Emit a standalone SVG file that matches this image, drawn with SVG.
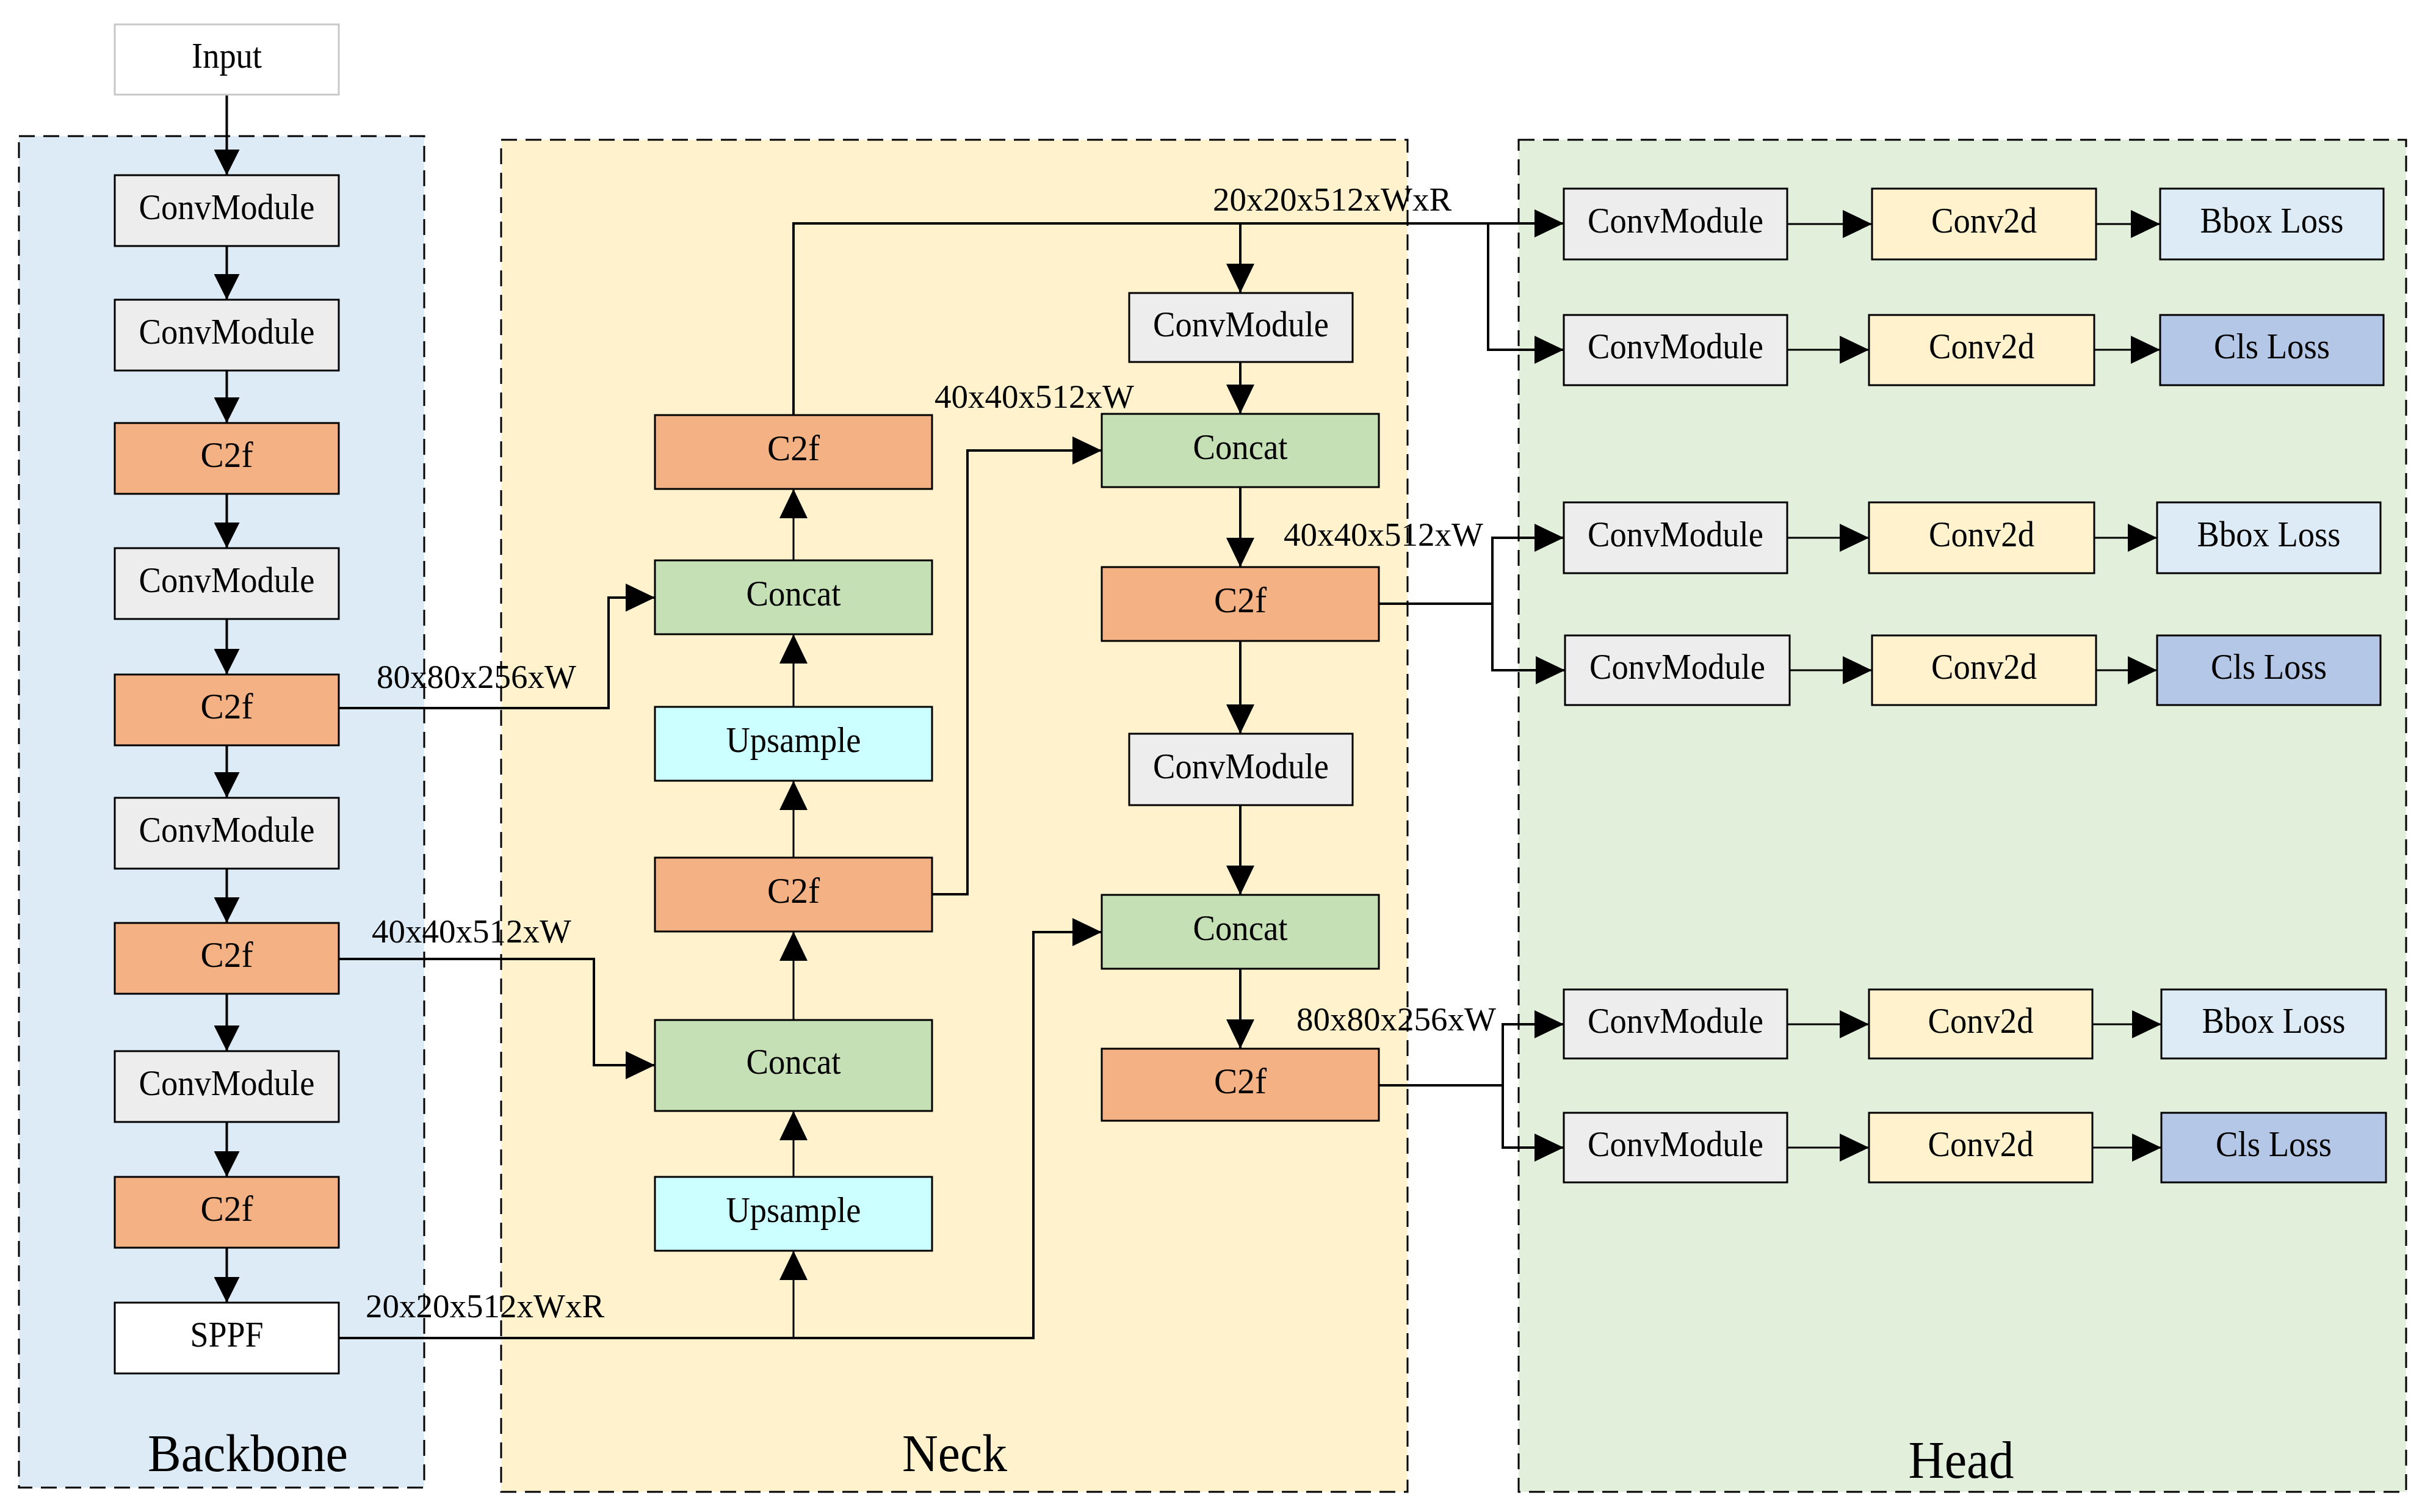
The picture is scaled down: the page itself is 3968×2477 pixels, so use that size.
<svg xmlns="http://www.w3.org/2000/svg" width="3968" height="2477" viewBox="0 0 3968 2477">
<style>
.grp{stroke:#000;stroke-width:3;stroke-dasharray:26 14}
.n{stroke:#000;stroke-width:3}
.cm{fill:#EDEDED}.c2f{fill:#F4B183}.cat{fill:#C5E0B4}.up{fill:#CCFFFF}.c2d{fill:#FFF2CC}.bb{fill:#DDEBF7}.cls{fill:#B4C7E7}.wh{fill:#FFFFFF}
.t{font-family:"Liberation Serif","Times New Roman",serif;font-size:60px;text-anchor:middle;fill:#000;transform:translateY(-5px)}
.lb{font-family:"Liberation Serif","Times New Roman",serif;font-size:55px;fill:#000}
.ti{font-family:"Liberation Serif","Times New Roman",serif;font-size:86px;text-anchor:middle;fill:#000}
.c{fill:none;stroke:#000;stroke-width:4}
.ch{fill:none;stroke:#000;stroke-width:3}
</style>
<defs>
<marker id="ah" markerUnits="userSpaceOnUse" markerWidth="48" markerHeight="46" refX="48" refY="23" orient="auto"><path d="M0,0 L48,23 L0,46 Z" fill="#000"/></marker>
<marker id="as" markerUnits="userSpaceOnUse" markerWidth="42" markerHeight="42" refX="42" refY="21" orient="auto"><path d="M0,0 L42,21 L0,42 Z" fill="#000"/></marker>
</defs>
<rect width="3968" height="2477" fill="#FFFFFF"/>
<g id="groups">
<rect id="backbone" class="grp" x="31" y="223" width="664" height="2214" fill="#DDEBF7"/>
<rect id="neck" class="grp" x="821" y="229" width="1485" height="2215" fill="#FFF2CC"/>
<rect id="head" class="grp" x="2488" y="229" width="1454" height="2215" fill="#E2EFDA"/>
<text class="ti" x="406" y="2410" textLength="328" lengthAdjust="spacingAndGlyphs">Backbone</text>
<text class="ti" x="1564" y="2410" textLength="172" lengthAdjust="spacingAndGlyphs">Neck</text>
<text class="ti" x="3213" y="2421" textLength="173" lengthAdjust="spacingAndGlyphs">Head</text>
</g>
<g id="connectors">
<path class="c" marker-end="url(#as)" d="M371.5,155 V287"/>
<path class="c" marker-end="url(#as)" d="M371.5,403 V491"/>
<path class="c" marker-end="url(#as)" d="M371.5,607 V693"/>
<path class="c" marker-end="url(#as)" d="M371.5,809 V898"/>
<path class="c" marker-end="url(#as)" d="M371.5,1014 V1105"/>
<path class="c" marker-end="url(#as)" d="M371.5,1221 V1307"/>
<path class="c" marker-end="url(#as)" d="M371.5,1423 V1512"/>
<path class="c" marker-end="url(#as)" d="M371.5,1628 V1722"/>
<path class="c" marker-end="url(#as)" d="M371.5,1838 V1928"/>
<path class="c" marker-end="url(#as)" d="M371.5,2044 V2134"/>
<path class="c" marker-end="url(#ah)" d="M555,1160 H997 V979 H1073"/>
<path class="c" marker-end="url(#ah)" d="M555,1571 H973 V1745 H1073"/>
<path class="c" marker-end="url(#ah)" d="M555,2192 H1693 V1527 H1805"/>
<path class="ch" marker-end="url(#ah)" d="M1300,2192 V2049"/>
<path class="ch" marker-end="url(#ah)" d="M1300,1928 V1820"/>
<path class="ch" marker-end="url(#ah)" d="M1300,1671 V1526"/>
<path class="ch" marker-end="url(#ah)" d="M1300,1405 V1279"/>
<path class="ch" marker-end="url(#ah)" d="M1300,1158 V1039"/>
<path class="ch" marker-end="url(#ah)" d="M1300,918 V801"/>
<path class="c" marker-end="url(#ah)" d="M1300,680 V366 H2562"/>
<path class="c" marker-end="url(#ah)" d="M2032,366 V480"/>
<path class="c" marker-end="url(#ah)" d="M2438,366 V573 H2562"/>
<path class="c" marker-end="url(#ah)" d="M1527,1465 H1585 V738 H1805"/>
<path class="c" marker-end="url(#ah)" d="M2032,593 V678"/>
<path class="c" marker-end="url(#ah)" d="M2032,798 V929"/>
<path class="c" marker-end="url(#ah)" d="M2032,1050 V1202"/>
<path class="c" marker-end="url(#ah)" d="M2032,1319 V1466"/>
<path class="c" marker-end="url(#ah)" d="M2032,1587 V1718"/>
<path class="c" marker-end="url(#ah)" d="M2259,989 H2445 V881 H2562"/>
<path class="c" marker-end="url(#ah)" d="M2445,989 V1098 H2564"/>
<path class="c" marker-end="url(#ah)" d="M2259,1778 H2462 V1678 H2562"/>
<path class="c" marker-end="url(#ah)" d="M2462,1778 V1880 H2562"/>
<path class="ch" marker-end="url(#ah)" d="M2928,367 H3067"/>
<path class="ch" marker-end="url(#ah)" d="M3434,367 H3539"/>
<path class="ch" marker-end="url(#ah)" d="M2928,573 H3062"/>
<path class="ch" marker-end="url(#ah)" d="M3431,573 H3539"/>
<path class="ch" marker-end="url(#ah)" d="M2928,881 H3062"/>
<path class="ch" marker-end="url(#ah)" d="M3431,881 H3534"/>
<path class="ch" marker-end="url(#ah)" d="M2932,1098 H3067"/>
<path class="ch" marker-end="url(#ah)" d="M3434,1098 H3534"/>
<path class="ch" marker-end="url(#ah)" d="M2928,1678 H3062"/>
<path class="ch" marker-end="url(#ah)" d="M3428,1678 H3541"/>
<path class="ch" marker-end="url(#ah)" d="M2928,1880 H3062"/>
<path class="ch" marker-end="url(#ah)" d="M3428,1880 H3541"/>
</g>
<g id="labels">
<text class="lb" x="1987" y="345">20x20x512xWxR</text>
<text class="lb" x="1531" y="668">40x40x512xW</text>
<text class="lb" x="2103" y="894">40x40x512xW</text>
<text class="lb" x="617" y="1127">80x80x256xW</text>
<text class="lb" x="609" y="1544">40x40x512xW</text>
<text class="lb" x="599" y="2158">20x20x512xWxR</text>
<text class="lb" x="2124" y="1688">80x80x256xW</text>
</g>
<g id="input"><rect class="wh" x="188" y="40" width="367" height="115" stroke="#C8C8C8" stroke-width="3"/><text class="t" x="371.5" y="116" textLength="115" lengthAdjust="spacingAndGlyphs">Input</text></g>
<g id="b1"><rect class="n cm" x="188" y="287" width="367" height="116"/><text class="t" x="371.5" y="364" textLength="288" lengthAdjust="spacingAndGlyphs">ConvModule</text></g>
<g id="b2"><rect class="n cm" x="188" y="491" width="367" height="116"/><text class="t" x="371.5" y="568" textLength="288" lengthAdjust="spacingAndGlyphs">ConvModule</text></g>
<g id="b3"><rect class="n c2f" x="188" y="693" width="367" height="116"/><text class="t" x="371.5" y="770" textLength="86" lengthAdjust="spacingAndGlyphs">C2f</text></g>
<g id="b4"><rect class="n cm" x="188" y="898" width="367" height="116"/><text class="t" x="371.5" y="975" textLength="288" lengthAdjust="spacingAndGlyphs">ConvModule</text></g>
<g id="b5"><rect class="n c2f" x="188" y="1105" width="367" height="116"/><text class="t" x="371.5" y="1182" textLength="86" lengthAdjust="spacingAndGlyphs">C2f</text></g>
<g id="b6"><rect class="n cm" x="188" y="1307" width="367" height="116"/><text class="t" x="371.5" y="1384" textLength="288" lengthAdjust="spacingAndGlyphs">ConvModule</text></g>
<g id="b7"><rect class="n c2f" x="188" y="1512" width="367" height="116"/><text class="t" x="371.5" y="1589" textLength="86" lengthAdjust="spacingAndGlyphs">C2f</text></g>
<g id="b8"><rect class="n cm" x="188" y="1722" width="367" height="116"/><text class="t" x="371.5" y="1799" textLength="288" lengthAdjust="spacingAndGlyphs">ConvModule</text></g>
<g id="b9"><rect class="n c2f" x="188" y="1928" width="367" height="116"/><text class="t" x="371.5" y="2005" textLength="86" lengthAdjust="spacingAndGlyphs">C2f</text></g>
<g id="b10"><rect class="n wh" x="188" y="2134" width="367" height="116"/><text class="t" x="371.5" y="2211" textLength="120" lengthAdjust="spacingAndGlyphs">SPPF</text></g>
<g id="n1"><rect class="n c2f" x="1073" y="680" width="454" height="121"/><text class="t" x="1300" y="759" textLength="86" lengthAdjust="spacingAndGlyphs">C2f</text></g>
<g id="n2"><rect class="n cat" x="1073" y="918" width="454" height="121"/><text class="t" x="1300" y="997" textLength="155" lengthAdjust="spacingAndGlyphs">Concat</text></g>
<g id="n3"><rect class="n up" x="1073" y="1158" width="454" height="121"/><text class="t" x="1300" y="1237" textLength="221" lengthAdjust="spacingAndGlyphs">Upsample</text></g>
<g id="n4"><rect class="n c2f" x="1073" y="1405" width="454" height="121"/><text class="t" x="1300" y="1484" textLength="86" lengthAdjust="spacingAndGlyphs">C2f</text></g>
<g id="n5"><rect class="n cat" x="1073" y="1671" width="454" height="149"/><text class="t" x="1300" y="1764" textLength="155" lengthAdjust="spacingAndGlyphs">Concat</text></g>
<g id="n6"><rect class="n up" x="1073" y="1928" width="454" height="121"/><text class="t" x="1300" y="2007" textLength="221" lengthAdjust="spacingAndGlyphs">Upsample</text></g>
<g id="r1"><rect class="n cm" x="1850" y="480" width="366" height="113"/><text class="t" x="2033" y="556" textLength="288" lengthAdjust="spacingAndGlyphs">ConvModule</text></g>
<g id="r2"><rect class="n cat" x="1805" y="678" width="454" height="120"/><text class="t" x="2032" y="757" textLength="155" lengthAdjust="spacingAndGlyphs">Concat</text></g>
<g id="r3"><rect class="n c2f" x="1805" y="929" width="454" height="121"/><text class="t" x="2032" y="1008" textLength="86" lengthAdjust="spacingAndGlyphs">C2f</text></g>
<g id="r4"><rect class="n cm" x="1850" y="1202" width="366" height="117"/><text class="t" x="2033" y="1280" textLength="288" lengthAdjust="spacingAndGlyphs">ConvModule</text></g>
<g id="r5"><rect class="n cat" x="1805" y="1466" width="454" height="121"/><text class="t" x="2032" y="1545" textLength="155" lengthAdjust="spacingAndGlyphs">Concat</text></g>
<g id="r6"><rect class="n c2f" x="1805" y="1718" width="454" height="118"/><text class="t" x="2032" y="1796" textLength="86" lengthAdjust="spacingAndGlyphs">C2f</text></g>
<g id="h1a"><rect class="n cm" x="2562" y="309" width="366" height="116"/><text class="t" x="2745" y="386" textLength="288" lengthAdjust="spacingAndGlyphs">ConvModule</text></g>
<g id="h1b"><rect class="n c2d" x="3067" y="309" width="367" height="116"/><text class="t" x="3250.5" y="386" textLength="173" lengthAdjust="spacingAndGlyphs">Conv2d</text></g>
<g id="h1c"><rect class="n bb" x="3539" y="309" width="366" height="116"/><text class="t" x="3722" y="386" textLength="235" lengthAdjust="spacingAndGlyphs">Bbox Loss</text></g>
<g id="h2a"><rect class="n cm" x="2562" y="516" width="366" height="115"/><text class="t" x="2745" y="592" textLength="288" lengthAdjust="spacingAndGlyphs">ConvModule</text></g>
<g id="h2b"><rect class="n c2d" x="3062" y="516" width="369" height="115"/><text class="t" x="3246.5" y="592" textLength="173" lengthAdjust="spacingAndGlyphs">Conv2d</text></g>
<g id="h2c"><rect class="n cls" x="3539" y="516" width="366" height="115"/><text class="t" x="3722" y="592" textLength="190" lengthAdjust="spacingAndGlyphs">Cls Loss</text></g>
<g id="h3a"><rect class="n cm" x="2562" y="823" width="366" height="116"/><text class="t" x="2745" y="900" textLength="288" lengthAdjust="spacingAndGlyphs">ConvModule</text></g>
<g id="h3b"><rect class="n c2d" x="3062" y="823" width="369" height="116"/><text class="t" x="3246.5" y="900" textLength="173" lengthAdjust="spacingAndGlyphs">Conv2d</text></g>
<g id="h3c"><rect class="n bb" x="3534" y="823" width="366" height="116"/><text class="t" x="3717" y="900" textLength="235" lengthAdjust="spacingAndGlyphs">Bbox Loss</text></g>
<g id="h4a"><rect class="n cm" x="2564" y="1041" width="368" height="114"/><text class="t" x="2748" y="1117" textLength="288" lengthAdjust="spacingAndGlyphs">ConvModule</text></g>
<g id="h4b"><rect class="n c2d" x="3067" y="1041" width="367" height="114"/><text class="t" x="3250.5" y="1117" textLength="173" lengthAdjust="spacingAndGlyphs">Conv2d</text></g>
<g id="h4c"><rect class="n cls" x="3534" y="1041" width="366" height="114"/><text class="t" x="3717" y="1117" textLength="190" lengthAdjust="spacingAndGlyphs">Cls Loss</text></g>
<g id="h5a"><rect class="n cm" x="2562" y="1621" width="366" height="113"/><text class="t" x="2745" y="1697" textLength="288" lengthAdjust="spacingAndGlyphs">ConvModule</text></g>
<g id="h5b"><rect class="n c2d" x="3062" y="1621" width="366" height="113"/><text class="t" x="3245" y="1697" textLength="173" lengthAdjust="spacingAndGlyphs">Conv2d</text></g>
<g id="h5c"><rect class="n bb" x="3541" y="1621" width="368" height="113"/><text class="t" x="3725" y="1697" textLength="235" lengthAdjust="spacingAndGlyphs">Bbox Loss</text></g>
<g id="h6a"><rect class="n cm" x="2562" y="1823" width="366" height="114"/><text class="t" x="2745" y="1899" textLength="288" lengthAdjust="spacingAndGlyphs">ConvModule</text></g>
<g id="h6b"><rect class="n c2d" x="3062" y="1823" width="366" height="114"/><text class="t" x="3245" y="1899" textLength="173" lengthAdjust="spacingAndGlyphs">Conv2d</text></g>
<g id="h6c"><rect class="n cls" x="3541" y="1823" width="368" height="114"/><text class="t" x="3725" y="1899" textLength="190" lengthAdjust="spacingAndGlyphs">Cls Loss</text></g>
</svg>
